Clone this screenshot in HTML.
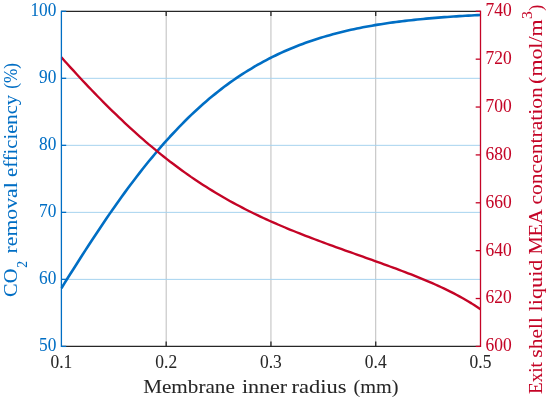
<!DOCTYPE html>
<html><head><meta charset="utf-8"><title>Plot</title>
<style>
html,body{margin:0;padding:0;background:#fff;}
svg{display:block;}
text{font-family:"Liberation Serif",serif;stroke-width:0.05px;}
</style></head><body>
<svg width="550" height="397" viewBox="0 0 550 397">
<rect width="550" height="397" fill="#fff"/>
<line x1="166.18" y1="11.3" x2="166.18" y2="346.4" stroke="#BDBDBD" stroke-width="1"/>
<line x1="270.95" y1="11.3" x2="270.95" y2="346.4" stroke="#BDBDBD" stroke-width="1"/>
<line x1="375.73" y1="11.3" x2="375.73" y2="346.4" stroke="#BDBDBD" stroke-width="1"/>
<line x1="61.4" y1="279.38" x2="480.5" y2="279.38" stroke="#A6D3EF" stroke-width="1"/>
<line x1="61.4" y1="212.36" x2="480.5" y2="212.36" stroke="#A6D3EF" stroke-width="1"/>
<line x1="61.4" y1="145.34" x2="480.5" y2="145.34" stroke="#A6D3EF" stroke-width="1"/>
<line x1="61.4" y1="78.32" x2="480.5" y2="78.32" stroke="#A6D3EF" stroke-width="1"/>
<clipPath id="c"><rect x="60.4" y="11.3" width="421.1" height="335.09999999999997"/></clipPath>
<g clip-path="url(#c)" fill="none" stroke-width="2.35" stroke-linejoin="round">
<path d="M61.4,288.22 L64.4,283.38 L67.4,278.56 L70.4,273.76 L73.5,268.98 L76.5,264.21 L79.5,259.48 L82.5,254.77 L85.5,250.08 L88.5,245.43 L91.6,240.81 L94.6,236.23 L97.6,231.68 L100.6,227.16 L103.6,222.69 L106.6,218.26 L109.6,213.87 L112.7,209.53 L115.7,205.23 L118.7,200.98 L121.7,196.77 L124.7,192.62 L127.7,188.51 L130.7,184.46 L133.8,180.45 L136.8,176.51 L139.8,172.61 L142.8,168.77 L145.8,164.99 L148.8,161.26 L151.9,157.58 L154.9,153.97 L157.9,150.41 L160.9,146.91 L163.9,143.47 L166.9,140.08 L169.9,136.76 L173.0,133.49 L176.0,130.28 L179.0,127.13 L182.0,124.04 L185.0,121.01 L188.0,118.04 L191.0,115.12 L194.1,112.27 L197.1,109.47 L200.1,106.73 L203.1,104.05 L206.1,101.42 L209.1,98.85 L212.2,96.34 L215.2,93.88 L218.2,91.48 L221.2,89.13 L224.2,86.83 L227.2,84.59 L230.2,82.41 L233.3,80.27 L236.3,78.19 L239.3,76.15 L242.3,74.17 L245.3,72.24 L248.3,70.36 L251.4,68.52 L254.4,66.73 L257.4,64.99 L260.4,63.29 L263.4,61.64 L266.4,60.04 L269.4,58.47 L272.5,56.95 L275.5,55.48 L278.5,54.04 L281.5,52.64 L284.5,51.29 L287.5,49.97 L290.5,48.69 L293.6,47.44 L296.6,46.24 L299.6,45.07 L302.6,43.93 L305.6,42.83 L308.6,41.76 L311.7,40.72 L314.7,39.72 L317.7,38.74 L320.7,37.80 L323.7,36.88 L326.7,36.00 L329.7,35.14 L332.8,34.31 L335.8,33.50 L338.8,32.72 L341.8,31.97 L344.8,31.24 L347.8,30.54 L350.9,29.85 L353.9,29.19 L356.9,28.56 L359.9,27.94 L362.9,27.34 L365.9,26.77 L368.9,26.21 L372.0,25.67 L375.0,25.15 L378.0,24.65 L381.0,24.17 L384.0,23.70 L387.0,23.25 L390.0,22.82 L393.1,22.39 L396.1,21.99 L399.1,21.60 L402.1,21.22 L405.1,20.86 L408.1,20.51 L411.2,20.17 L414.2,19.84 L417.2,19.53 L420.2,19.22 L423.2,18.93 L426.2,18.65 L429.2,18.38 L432.3,18.11 L435.3,17.86 L438.3,17.62 L441.3,17.39 L444.3,17.16 L447.3,16.94 L450.3,16.73 L453.4,16.53 L456.4,16.34 L459.4,16.15 L462.4,15.97 L465.4,15.80 L468.4,15.63 L471.5,15.47 L474.5,15.32 L477.5,15.17 L480.5,15.03" stroke="#006EC4" stroke-width="2.6"/>
<path d="M61.4,57.27 L64.4,60.66 L67.4,64.02 L70.4,67.35 L73.5,70.66 L76.5,73.95 L79.5,77.21 L82.5,80.44 L85.5,83.65 L88.5,86.82 L91.6,89.98 L94.6,93.10 L97.6,96.20 L100.6,99.28 L103.6,102.32 L106.6,105.34 L109.6,108.32 L112.7,111.28 L115.7,114.21 L118.7,117.11 L121.7,119.97 L124.7,122.81 L127.7,125.62 L130.7,128.39 L133.8,131.13 L136.8,133.84 L139.8,136.52 L142.8,139.17 L145.8,141.78 L148.8,144.36 L151.9,146.90 L154.9,149.41 L157.9,151.89 L160.9,154.33 L163.9,156.74 L166.9,159.11 L169.9,161.45 L173.0,163.75 L176.0,166.02 L179.0,168.26 L182.0,170.46 L185.0,172.63 L188.0,174.76 L191.0,176.86 L194.1,178.92 L197.1,180.95 L200.1,182.95 L203.1,184.92 L206.1,186.85 L209.1,188.75 L212.2,190.62 L215.2,192.45 L218.2,194.26 L221.2,196.04 L224.2,197.78 L227.2,199.50 L230.2,201.18 L233.3,202.84 L236.3,204.47 L239.3,206.07 L242.3,207.65 L245.3,209.20 L248.3,210.72 L251.4,212.22 L254.4,213.70 L257.4,215.15 L260.4,216.58 L263.4,217.99 L266.4,219.38 L269.4,220.74 L272.5,222.09 L275.5,223.42 L278.5,224.73 L281.5,226.02 L284.5,227.29 L287.5,228.55 L290.5,229.79 L293.6,231.02 L296.6,232.23 L299.6,233.43 L302.6,234.62 L305.6,235.80 L308.6,236.96 L311.7,238.11 L314.7,239.26 L317.7,240.39 L320.7,241.52 L323.7,242.63 L326.7,243.75 L329.7,244.85 L332.8,245.95 L335.8,247.04 L338.8,248.13 L341.8,249.21 L344.8,250.29 L347.8,251.37 L350.9,252.44 L353.9,253.51 L356.9,254.58 L359.9,255.66 L362.9,256.73 L365.9,257.80 L368.9,258.87 L372.0,259.95 L375.0,261.03 L378.0,262.11 L381.0,263.19 L384.0,264.28 L387.0,265.38 L390.0,266.48 L393.1,267.59 L396.1,268.71 L399.1,269.84 L402.1,270.98 L405.1,272.12 L408.1,273.28 L411.2,274.46 L414.2,275.65 L417.2,276.85 L420.2,278.07 L423.2,279.31 L426.2,280.57 L429.2,281.85 L432.3,283.16 L435.3,284.49 L438.3,285.85 L441.3,287.24 L444.3,288.66 L447.3,290.12 L450.3,291.61 L453.4,293.15 L456.4,294.72 L459.4,296.35 L462.4,298.02 L465.4,299.75 L468.4,301.53 L471.5,303.37 L474.5,305.28 L477.5,307.26 L480.5,309.32" stroke="#C40426"/>
</g>
<g stroke="#262626" stroke-width="1.3" fill="none">
<line x1="61.4" y1="11.3" x2="480.5" y2="11.3"/>
<line x1="61.4" y1="346.4" x2="480.5" y2="346.4"/>
<line x1="166.18" y1="346.4" x2="166.18" y2="341.59999999999997"/>
<line x1="166.18" y1="11.3" x2="166.18" y2="16.1"/>
<line x1="270.95" y1="346.4" x2="270.95" y2="341.59999999999997"/>
<line x1="270.95" y1="11.3" x2="270.95" y2="16.1"/>
<line x1="375.73" y1="346.4" x2="375.73" y2="341.59999999999997"/>
<line x1="375.73" y1="11.3" x2="375.73" y2="16.1"/>
</g>
<g stroke="#006EC4" stroke-width="1.3" fill="none">
<line x1="61.4" y1="10.65" x2="61.4" y2="347.04999999999995"/>
<line x1="61.4" y1="346.40" x2="66.2" y2="346.40"/>
<line x1="61.4" y1="279.38" x2="66.2" y2="279.38"/>
<line x1="61.4" y1="212.36" x2="66.2" y2="212.36"/>
<line x1="61.4" y1="145.34" x2="66.2" y2="145.34"/>
<line x1="61.4" y1="78.32" x2="66.2" y2="78.32"/>
<line x1="61.4" y1="11.30" x2="66.2" y2="11.30"/>
</g>
<g stroke="#C40426" stroke-width="1.3" fill="none">
<line x1="480.5" y1="10.65" x2="480.5" y2="347.04999999999995"/>
<line x1="480.5" y1="346.40" x2="475.7" y2="346.40"/>
<line x1="480.5" y1="298.53" x2="475.7" y2="298.53"/>
<line x1="480.5" y1="250.66" x2="475.7" y2="250.66"/>
<line x1="480.5" y1="202.79" x2="475.7" y2="202.79"/>
<line x1="480.5" y1="154.91" x2="475.7" y2="154.91"/>
<line x1="480.5" y1="107.04" x2="475.7" y2="107.04"/>
<line x1="480.5" y1="59.17" x2="475.7" y2="59.17"/>
<line x1="480.5" y1="11.30" x2="475.7" y2="11.30"/>
</g>
<text x="56.3" y="351.1" font-size="19" fill="#006EC4" stroke="#006EC4" text-anchor="end" textLength="17.3" lengthAdjust="spacingAndGlyphs">50</text>
<text x="56.3" y="284.1" font-size="19" fill="#006EC4" stroke="#006EC4" text-anchor="end" textLength="17.3" lengthAdjust="spacingAndGlyphs">60</text>
<text x="56.3" y="217.1" font-size="19" fill="#006EC4" stroke="#006EC4" text-anchor="end" textLength="17.3" lengthAdjust="spacingAndGlyphs">70</text>
<text x="56.3" y="150.0" font-size="19" fill="#006EC4" stroke="#006EC4" text-anchor="end" textLength="17.3" lengthAdjust="spacingAndGlyphs">80</text>
<text x="56.3" y="83.0" font-size="19" fill="#006EC4" stroke="#006EC4" text-anchor="end" textLength="17.3" lengthAdjust="spacingAndGlyphs">90</text>
<text x="56.3" y="16.0" font-size="19" fill="#006EC4" stroke="#006EC4" text-anchor="end" textLength="25.9" lengthAdjust="spacingAndGlyphs">100</text>
<text x="485.6" y="351.2" font-size="19" fill="#C40426" stroke="#C40426" text-anchor="start" textLength="26.2" lengthAdjust="spacingAndGlyphs">600</text>
<text x="485.6" y="303.3" font-size="19" fill="#C40426" stroke="#C40426" text-anchor="start" textLength="26.2" lengthAdjust="spacingAndGlyphs">620</text>
<text x="485.6" y="255.5" font-size="19" fill="#C40426" stroke="#C40426" text-anchor="start" textLength="26.2" lengthAdjust="spacingAndGlyphs">640</text>
<text x="485.6" y="207.6" font-size="19" fill="#C40426" stroke="#C40426" text-anchor="start" textLength="26.2" lengthAdjust="spacingAndGlyphs">660</text>
<text x="485.6" y="159.7" font-size="19" fill="#C40426" stroke="#C40426" text-anchor="start" textLength="26.2" lengthAdjust="spacingAndGlyphs">680</text>
<text x="485.6" y="111.8" font-size="19" fill="#C40426" stroke="#C40426" text-anchor="start" textLength="26.2" lengthAdjust="spacingAndGlyphs">700</text>
<text x="485.6" y="64.0" font-size="19" fill="#C40426" stroke="#C40426" text-anchor="start" textLength="26.2" lengthAdjust="spacingAndGlyphs">720</text>
<text x="485.6" y="16.1" font-size="19" fill="#C40426" stroke="#C40426" text-anchor="start" textLength="26.2" lengthAdjust="spacingAndGlyphs">740</text>
<text x="61.4" y="367.5" font-size="19" fill="#262626" stroke="#262626" text-anchor="middle" textLength="21.8" lengthAdjust="spacingAndGlyphs">0.1</text>
<text x="166.2" y="367.5" font-size="19" fill="#262626" stroke="#262626" text-anchor="middle" textLength="21.8" lengthAdjust="spacingAndGlyphs">0.2</text>
<text x="270.9" y="367.5" font-size="19" fill="#262626" stroke="#262626" text-anchor="middle" textLength="21.8" lengthAdjust="spacingAndGlyphs">0.3</text>
<text x="375.7" y="367.5" font-size="19" fill="#262626" stroke="#262626" text-anchor="middle" textLength="21.8" lengthAdjust="spacingAndGlyphs">0.4</text>
<text x="480.5" y="367.5" font-size="19" fill="#262626" stroke="#262626" text-anchor="middle" textLength="21.8" lengthAdjust="spacingAndGlyphs">0.5</text>
<text y="392.9" font-size="19.4" fill="#262626" stroke="#262626"><tspan x="143.2" textLength="91.6" lengthAdjust="spacingAndGlyphs">Membrane</tspan> <tspan x="242.0" textLength="45.2" lengthAdjust="spacingAndGlyphs">inner</tspan> <tspan x="291.6" textLength="54.9" lengthAdjust="spacingAndGlyphs">radius</tspan> <tspan x="353.5" textLength="45.0" lengthAdjust="spacingAndGlyphs">(mm)</tspan></text>
<text transform="translate(17.0,0) rotate(-90)" font-size="19.4" fill="#006EC4" stroke="#006EC4"><tspan x="-296.9" y="0" textLength="28.4" lengthAdjust="spacingAndGlyphs">CO</tspan><tspan x="-267.7" y="9.6" font-size="14" textLength="6.8" lengthAdjust="spacingAndGlyphs">2</tspan> <tspan x="-253.5" y="0" textLength="71.3" lengthAdjust="spacingAndGlyphs">removal</tspan> <tspan x="-177.0" y="0" textLength="82.2" lengthAdjust="spacingAndGlyphs">efficiency</tspan> <tspan x="-88.8" y="0" textLength="25.8" lengthAdjust="spacingAndGlyphs">(%)</tspan></text>
<text transform="translate(542.0,0) rotate(-90)" font-size="19.4" fill="#C40426" stroke="#C40426"><tspan x="-393.9" y="0" textLength="31.8" lengthAdjust="spacingAndGlyphs">Exit</tspan> <tspan x="-357.7" y="0" textLength="40.6" lengthAdjust="spacingAndGlyphs">shell</tspan> <tspan x="-311.4" y="0" textLength="51.8" lengthAdjust="spacingAndGlyphs">liquid</tspan> <tspan x="-254.6" y="0" textLength="44.3" lengthAdjust="spacingAndGlyphs">MEA</tspan> <tspan x="-204.6" y="0" textLength="117.5" lengthAdjust="spacingAndGlyphs">concentration</tspan> <tspan x="-83.9" y="0" textLength="64.4" lengthAdjust="spacingAndGlyphs">(mol/m</tspan><tspan x="-18.9" y="-9.8" font-size="14" textLength="7.9" lengthAdjust="spacingAndGlyphs">3</tspan><tspan x="-10.7" y="0" textLength="5.9" lengthAdjust="spacingAndGlyphs">)</tspan></text>
</svg></body></html>
